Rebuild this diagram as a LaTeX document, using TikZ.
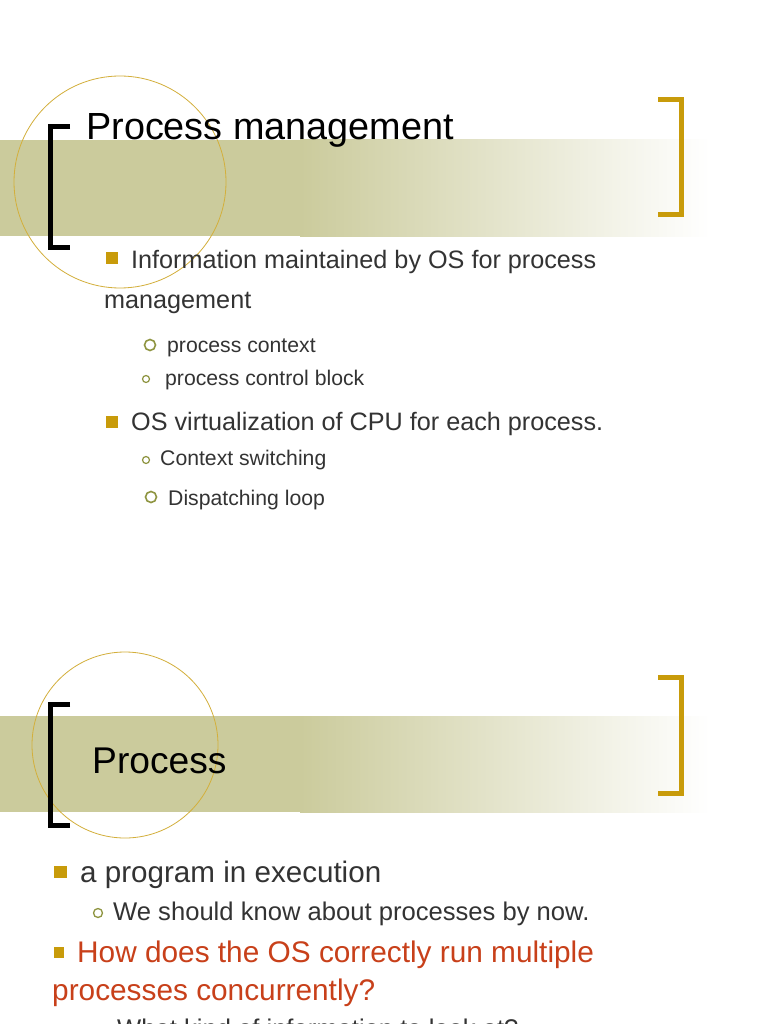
\documentclass[tikz,border=0pt]{standalone}
\usepackage{fontspec}
\setmainfont{Liberation Sans}
\definecolor{band}{HTML}{CBCB9C}
\definecolor{gold}{HTML}{C89B0A}
\definecolor{olive}{HTML}{8E9440}
\definecolor{txt}{HTML}{333333}
\definecolor{red}{HTML}{C8401A}
\begin{document}
\begin{tikzpicture}[x=1pt,y=-1pt,
  txtn/.style={anchor=base west,inner sep=0pt,text=txt},
  sq/.style={fill=gold,draw=none},
  cb/.style={draw=olive,line width=1.6pt},
  lbr/.style={draw=black,line width=5pt},
  rbr/.style={draw=gold,line width=5pt},
  ring/.style={draw=gold!80,line width=0.8pt}]
\useasboundingbox (0,0) rectangle (768,1024);
\fill[white] (0,0) rectangle (768,1024);
% slide 1
\fill[band] (0,140) rectangle (302,236);
\shade[left color=band,right color=white] (300,140) rectangle (710,236);
\draw[ring] (120,182) circle (106);
\draw[lbr] (70,127) -- (50,127) -- (50,247) -- (70,247);
\draw[rbr] (658,100) -- (681,100) -- (681,215) -- (658,215);
\node[txtn,text=black,font=\fontsize{37.8}{42}\selectfont] (t1) at (86,140) {Process management};
\fill[sq] (106,252) rectangle (118,264);
\node[txtn,font=\fontsize{25.2}{28}\selectfont] (a1) at (131,268) {Information maintained by OS for process};
\node[txtn,font=\fontsize{25.2}{28}\selectfont] (a2) at (104,308) {management};
\draw[cb] (150,345) circle (5.5);
\node[txtn,font=\fontsize{21.2}{24}\selectfont] (b1) at (167,352) {process context};
\draw[olive,line width=1.2pt] (146,379) circle (3.5);
\node[txtn,font=\fontsize{21.2}{24}\selectfont] (b2) at (165,385) {process control block};
\fill[sq] (106,416) rectangle (118,428);
\node[txtn,font=\fontsize{25.2}{28}\selectfont] (a3) at (131,430) {OS virtualization of CPU for each process.};
\draw[olive,line width=1.2pt] (146,460) circle (3.5);
\node[txtn,font=\fontsize{21.2}{24}\selectfont] (b3) at (160,465) {Context switching};
\draw[cb] (151,497) circle (5.5);
\node[txtn,font=\fontsize{21.2}{24}\selectfont] (b4) at (168,505) {Dispatching loop};
% slide 2
\fill[band] (0,716) rectangle (302,812);
\shade[left color=band,right color=white] (300,716) rectangle (710,812);
\draw[ring] (125,745) circle (93);
\draw[lbr] (70,704) -- (50,704) -- (50,825) -- (70,825);
\draw[rbr] (658,677) -- (681,677) -- (681,793) -- (658,793);
\node[txtn,text=black,font=\fontsize{37.2}{42}\selectfont] (t2) at (92,773) {Process};
\fill[sq] (54,866) rectangle (67,878);
\node[txtn,font=\fontsize{29.6}{33}\selectfont] (c1) at (80,882) {a program in execution};
\draw[olive,line width=1.3pt] (98,913) circle (4.5);
\node[txtn,font=\fontsize{25.6}{29}\selectfont] (c2) at (113,920) {We should know about processes by now.};
\fill[sq] (54,947) rectangle (64,958);
\node[txtn,text=red,font=\fontsize{29.8}{33}\selectfont] (c3) at (77,962) {How does the OS correctly run multiple};
\node[txtn,text=red,font=\fontsize{29.8}{33}\selectfont] (c4) at (52,1000) {processes concurrently?};
\node[txtn,font=\fontsize{25.6}{29}\selectfont] (c5) at (117,1037) {What kind of information to look at?};
\end{tikzpicture}
\end{document}
